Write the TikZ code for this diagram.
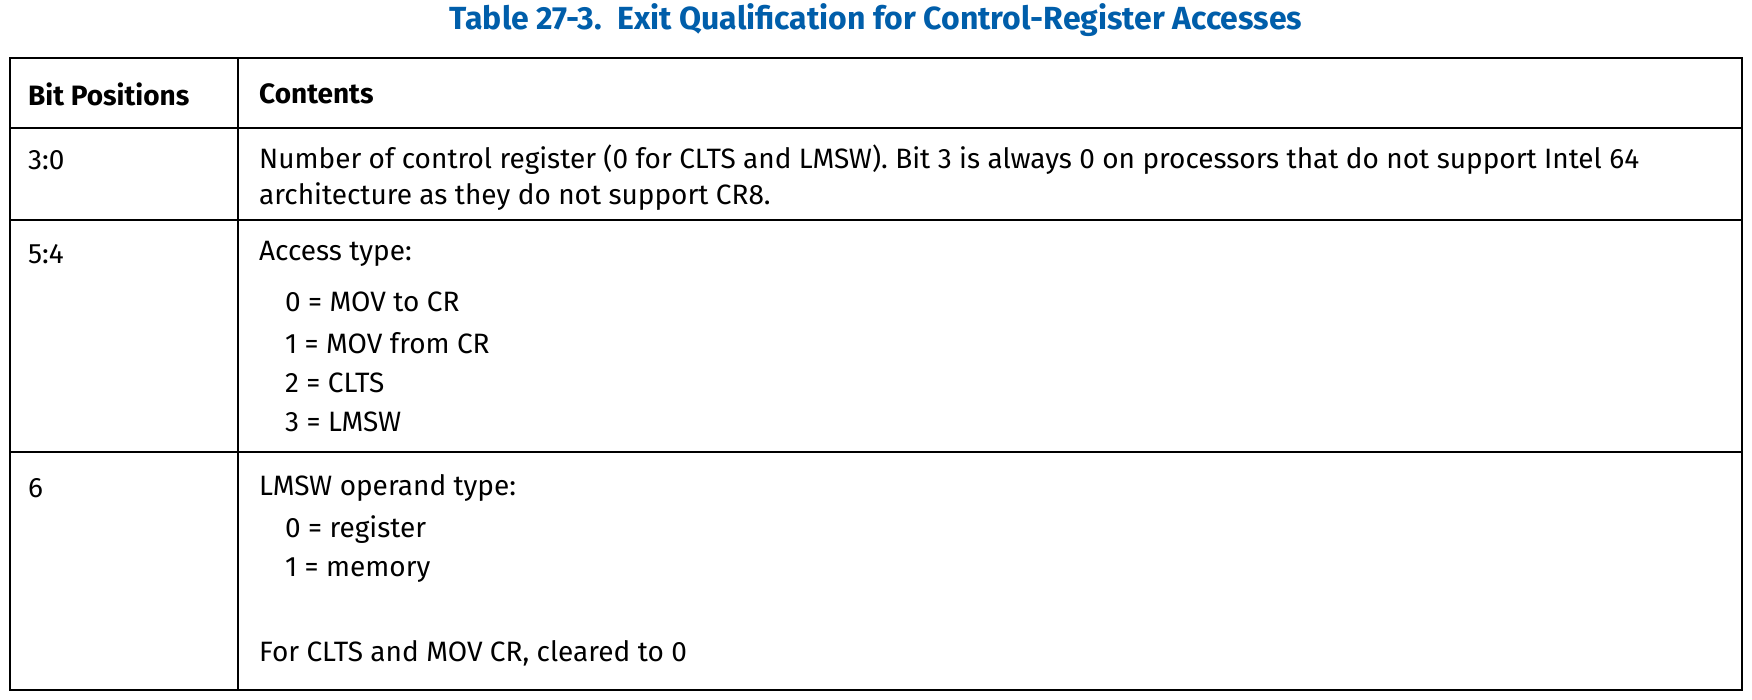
\documentclass[tikz,border=0pt]{standalone}
\usepackage{fontspec}
\setmainfont{Fira Sans}
\definecolor{titleblue}{RGB}{0,94,170}
\begin{document}
\begin{tikzpicture}[x=1pt,y=-1pt,
  cell/.style={anchor=west,inner sep=0pt,font=\fontsize{28}{32}\selectfont},
  hcell/.style={cell,font=\fontsize{28}{32}\selectfont\bfseries},
  rule/.style={line width=1.2pt}]
\useasboundingbox[fill=white] (0,0) rectangle (1752,700);
\node[font=\fontsize{32}{36}\selectfont\bfseries,text=titleblue] (title) at (876,20) {Table 27-3.\ \ Exit Qualification for Control-Register Accesses};
\draw[rule] (10,58) rectangle (1742,690);
\draw[rule] (238,58) -- (238,690);
\draw[rule] (10,128) -- (1742,128);
\draw[rule] (10,220) -- (1742,220);
\draw[rule] (10,452) -- (1742,452);
\node[hcell] (h1) at (28,94) {Bit Positions};
\node[hcell] (h2) at (259,94) {Contents};
\node[cell] (b1) at (28,160) {3:0};
\node[cell] (c1a) at (259,160) {Number of control register (0 for CLTS and LMSW). Bit 3 is always 0 on processors that do not support Intel 64};
\node[cell] (c1b) at (259,197) {architecture as they do not support CR8.};
\node[cell] (b2) at (28,254) {5:4};
\node[cell] (c2a) at (259,254) {Access type:};
\node[cell] (c2b) at (285,302) {0 = MOV to CR};
\node[cell] (c2c) at (285,343) {1 = MOV from CR};
\node[cell] (c2d) at (285,383) {2 = CLTS};
\node[cell] (c2e) at (285,422) {3 = LMSW};
\node[cell] (b3) at (28,488) {6};
\node[cell] (c3a) at (259,488) {LMSW operand type:};
\node[cell] (c3b) at (285,530) {0 = register};
\node[cell] (c3c) at (285,570) {1 = memory};
\node[cell] (c3d) at (259,653) {For CLTS and MOV CR, cleared to 0};
\end{tikzpicture}
\end{document}
